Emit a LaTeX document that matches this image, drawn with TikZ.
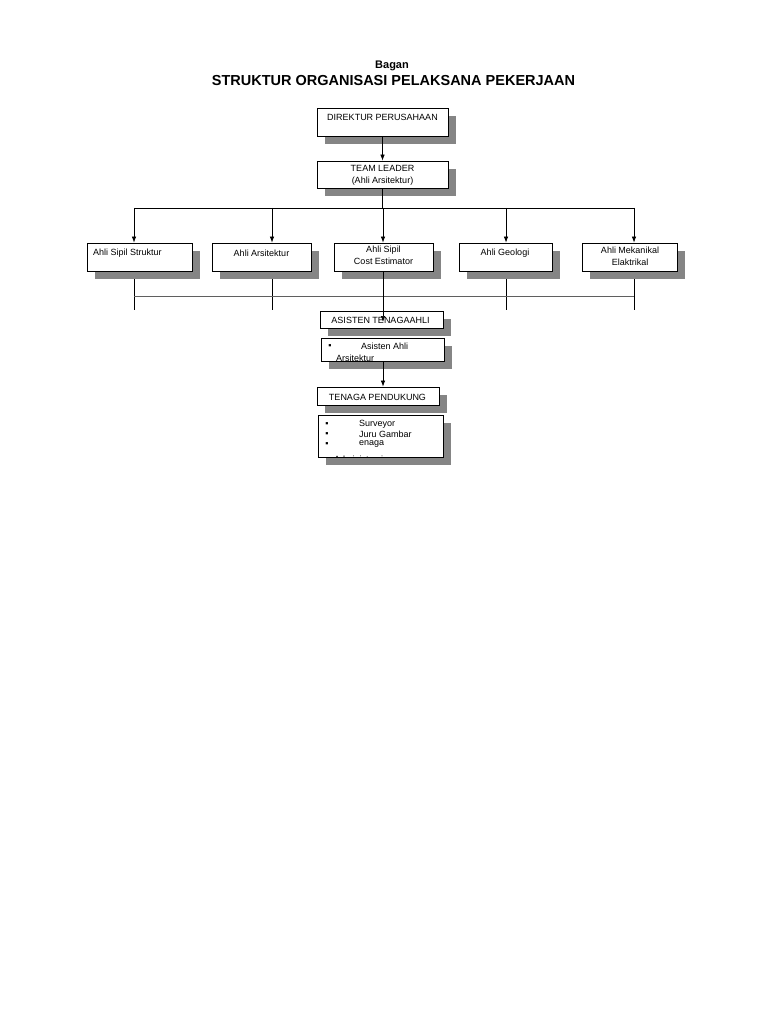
\documentclass[tikz,border=0pt]{standalone}
\usepackage{fontspec}
\setmainfont{Liberation Sans}
\usetikzlibrary{shadows,backgrounds,arrows.meta}
\definecolor{bayang}{RGB}{133,133,133}
\definecolor{garis}{RGB}{95,95,95}
\tikzset{
 kotak/.style={draw,fill=white,line width=.8pt,inner sep=0pt,
  drop shadow={shadow xshift=8pt,shadow yshift=-8pt,fill=bayang,opacity=1}},
 teks/.style={font=\fontsize{9}{12}\selectfont,inner sep=0pt,align=center},
 panah/.style={line width=.7pt,-{Latex[length=6pt,width=4.5pt]}},
}

\begin{document}
\begin{tikzpicture}[x=1pt,y=-1pt]
 \useasboundingbox (0,0) rectangle (768,1024);
 \node[font=\bfseries\fontsize{11}{13}\selectfont] (bagan) at (392,66) {Bagan};
 \node[font=\bfseries\fontsize{14.5}{17}\selectfont] (judul) at (393.5,81) {STRUKTUR ORGANISASI PELAKSANA PEKERJAAN};
 \node[kotak,minimum width=131pt,minimum height=28pt] (dir) at (382.5,122) {};
 \node[teks] (tdir) at (382.5,117.5) {DIREKTUR PERUSAHAAN};
 \node[kotak,minimum width=131pt,minimum height=27pt] (tl) at (382.5,174.5) {};
 \node[teks] (ttl) at (382.5,175) {TEAM LEADER\\(Ahli Arsitektur)};
 \foreach \id/\cx/\lebar/\ax in
  {sipil/139.5/105/134,arsi/261.5/99/272,cost/383.5/99/383,geo/505.5/93/506,meka/629.5/95/634}{
  \node[kotak,minimum width=\lebar pt,minimum height=28pt] (\id) at (\cx,257) {};
  \coordinate (a\id) at (\ax,208);
  \coordinate (h\id) at (\ax,296);
  \coordinate (b\id) at (\ax,310);}
 \node[teks,anchor=west] (tsipil) at (93,253.5) {Ahli Sipil Struktur};
 \node[teks] (tarsi) at (261.5,253) {Ahli Arsitektur};
 \node[teks] (tcost) at (383.5,255.5) {Ahli Sipil\\Cost Estimator};
 \node[teks] (tgeo) at (505,253) {Ahli Geologi};
 \node[teks] (tmeka) at (630,256.5) {Ahli Mekanikal\\Elaktrikal};
 \node[kotak,minimum width=123pt,minimum height=17pt] (ata) at (381.5,319.5) {};
 \node[teks] (tata) at (380.5,320) {ASISTEN TENAGAAHLI};
 \node[kotak,minimum width=123pt,minimum height=23pt] (asb) at (382.5,349.5) {};
 \node[kotak,minimum width=122pt,minimum height=18pt] (tp) at (378,396) {};
 \node[teks] (ttp) at (377.5,397) {TENAGA PENDUKUNG};
 \node[kotak,minimum width=125pt,minimum height=42pt] (tpb) at (380.5,436) {};
 \begin{scope}
  \clip (asb.north west) rectangle (asb.south east);
  \node[teks] (pasb) at (330,346.5) {▪};
  \node[teks,anchor=west] (tasb) at (361,346.5) {Asisten Ahli};
  \node[teks,anchor=west] (tasb2) at (336,358) {Arsitektur};
 \end{scope}
 \begin{scope}
  \clip (tpb.north west) rectangle (tpb.south east);
  \foreach \n/\yy/\isi in {1/424.5/Surveyor,2/434.5/Juru Gambar,3/444.5/enaga}{
   \node[teks] (p\n) at (327,\yy) {▪};
   \node[teks,anchor=west] (t\n) at (359,\yy) {\isi};}
  \node[teks,anchor=west] (t4) at (334,459) {Administrasi};
 \end{scope}
 \coordinate (bar) at (382.5,208);
 \coordinate (ujung) at (383,322);
 \draw[panah] (dir.south) -- (tl.north);
 \draw[line width=.7pt] (tl.south) -- (bar);
 \draw[line width=.7pt] (asipil) -- (ameka);
 \foreach \id in {sipil,arsi,cost,geo,meka}
  \draw[panah] (a\id) -- (a\id |- \id.north);
 \draw[panah] (acost |- cost.south) -- (ujung);
 \draw[panah] (acost |- asb.south) -- (acost |- tp.north);
 \begin{scope}[on background layer]
  \foreach \id in {sipil,arsi,geo,meka}
   \draw[line width=.7pt] (a\id |- \id.south) -- (b\id);
  \draw[garis,line width=.6pt] (hsipil) -- (hmeka);
 \end{scope}
\end{tikzpicture}
\end{document}
